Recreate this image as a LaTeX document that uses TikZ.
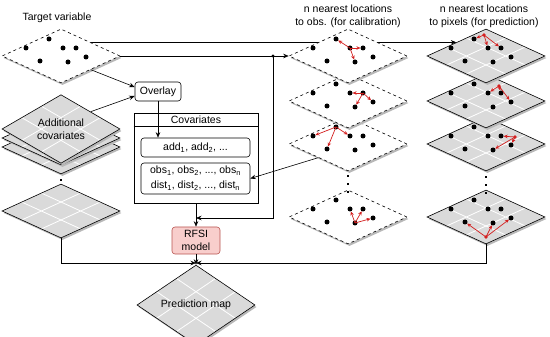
\documentclass[tikz,border=0pt]{standalone}
\usepackage{fontspec}
\setmainfont{Liberation Sans}
\usetikzlibrary{shapes.geometric,shadows,calc,arrows.meta,backgrounds}
\definecolor{gridgray}{HTML}{DADADA}
\definecolor{shadowgray}{HTML}{B8B8B8}
\definecolor{rfsifill}{HTML}{F8CECC}
\definecolor{rfsidraw}{HTML}{B85450}
\definecolor{redarr}{HTML}{D42020}
\newcommand\dotpattern[1]{\foreach \a/\b in {-12/-17,-35/-8,2/-8,15/-8,-21/5,7/6,25/1}{\fill ($(#1)+(\a,\b)$) circle (2.5pt);}}
\newcommand\nnarrow[3]{\draw[redarrow] ($(#1)+(#2)$) -- ($(#1)+(#3)$);}
\newcommand\pixelpt[2]{\fill[redarr] ($(#1)+(#2)$) circle (1.8pt);}
\newcommand\vdotsat[1]{\foreach \d in {-8,0,8}{\fill ($(#1)+(-1.3,\d-1.3)$) rectangle ++(2.6,2.6);}}
\tikzset{
  every node/.style={font=\fontsize{10.5}{13}\selectfont},
  dia/.style={diamond, inner sep=0pt, minimum width=118pt, minimum height=54pt, align=center,
    general shadow={fill=shadowgray, shadow xshift=1.5pt, shadow yshift=-2pt}},
  dashdia/.style={dia, draw, dashed, fill=white, line width=0.6pt},
  griddia/.style={dia, draw, fill=gridgray, line width=0.6pt,
    path picture={\foreach \t in {0.333,0.667}{
      \draw[white, line width=0.8pt, solid]
        ($(path picture bounding box.west)!\t!(path picture bounding box.north)$) -- ($(path picture bounding box.south)!\t!(path picture bounding box.east)$)
        ($(path picture bounding box.west)!\t!(path picture bounding box.south)$) -- ($(path picture bounding box.north)!\t!(path picture bounding box.east)$);}}},
  roundbox/.style={draw, rounded corners=3pt, inner sep=0pt, line width=0.6pt, align=center},
  arr/.style={-{Stealth[length=5.5pt,width=4.5pt]}, line width=0.6pt},
  redarrow/.style={redarr, line width=0.7pt, -{Stealth[length=4pt,width=3.6pt]}, shorten >=2.6pt},
  plainlabel/.style={align=center, inner sep=0pt},
}
\begin{document}
\begin{tikzpicture}[x=1pt,y=-1pt]
\useasboundingbox (0,0) rectangle (550,337);
% labels
\node[plainlabel] (tgtlabel) at (57,18) {Target variable};
\node[plainlabel] (callabel) at (348,16) {n nearest locations\\to obs. (for calibration)};
\node[plainlabel] (predlabel) at (484,16) {n nearest locations\\to pixels (for prediction)};
% target variable
\node[dashdia] (tgt) at (61,56) {};
\dotpattern{tgt}
% covariate stack
\node[griddia] (add3) at (61,147) {};
\node[griddia] (add2) at (61,138) {};
\node[griddia] (add1) at (61,129) {Additional\\covariates};
\coordinate (addvd) at (61,188);
\vdotsat{addvd}
\node[griddia] (cov) at (61,211) {};
% calibration column
\node[dashdia] (cal4) at (348,217) {};
\dotpattern{cal4}
\nnarrow{cal4}{7,6}{2,-8}\nnarrow{cal4}{7,6}{15,-8}\nnarrow{cal4}{7,6}{25,1}
\coordinate (calvd) at (348,184);
\vdotsat{calvd}
\node[dashdia] (cal3) at (348,144) {};
\dotpattern{cal3}
\nnarrow{cal3}{-12,-17}{-35,-8}\nnarrow{cal3}{-12,-17}{2,-8}\nnarrow{cal3}{-12,-17}{-21,5}
\node[dashdia] (cal2) at (348,101) {};
\dotpattern{cal2}
\nnarrow{cal2}{15,-8}{2,-8}\nnarrow{cal2}{15,-8}{25,1}\nnarrow{cal2}{15,-8}{7,6}
\node[dashdia] (cal1) at (348,56) {};
\dotpattern{cal1}
\nnarrow{cal1}{2,-8}{-12,-17}\nnarrow{cal1}{2,-8}{15,-8}\nnarrow{cal1}{2,-8}{7,6}
% prediction column
\node[griddia] (pred4) at (486,217) {};
\dotpattern{pred4}
\nnarrow{pred4}{0,20}{-21,5}\nnarrow{pred4}{0,20}{7,6}\nnarrow{pred4}{0,20}{25,1}
\pixelpt{pred4}{0,20}
\coordinate (predvd) at (486,185);
\vdotsat{predvd}
\node[griddia] (pred3) at (486,144) {};
\dotpattern{pred3}
\nnarrow{pred3}{29,-7}{15,-8}\nnarrow{pred3}{29,-7}{7,6}\nnarrow{pred3}{29,-7}{25,1}
\pixelpt{pred3}{29,-7}
\node[griddia] (pred2) at (486,101) {};
\dotpattern{pred2}
\nnarrow{pred2}{13,-15}{2,-8}\nnarrow{pred2}{13,-15}{15,-8}\nnarrow{pred2}{13,-15}{25,1}
\pixelpt{pred2}{13,-15}
\node[griddia] (pred1) at (486,56) {};
\dotpattern{pred1}
\nnarrow{pred1}{-2,-21}{-12,-17}\nnarrow{pred1}{-2,-21}{2,-8}\nnarrow{pred1}{-2,-21}{15,-8}
\pixelpt{pred1}{-2,-21}
% middle
\node[roundbox, minimum width=46pt, minimum height=19pt] (overlay) at (158,91.5) {Overlay};
\node[draw, line width=0.6pt, minimum width=124pt, minimum height=90pt, inner sep=0pt] (covbox) at (196,158) {};
\draw[line width=0.6pt] ([yshift=-14pt]covbox.north west) -- ([yshift=-14pt]covbox.north east);
\node[plainlabel] (covtitle) at (196,120) {Covariates};
\node[roundbox, minimum width=109pt, minimum height=19pt] (addbox) at (195.5,147.5) {add\textsubscript{1}, add\textsubscript{2}, ...};
\node[roundbox, minimum width=109pt, minimum height=31pt] (obsbox) at (195.5,178.5) {obs\textsubscript{1}, obs\textsubscript{2}, ..., obs\textsubscript{n}\\[2pt]dist\textsubscript{1}, dist\textsubscript{2}, ..., dist\textsubscript{n}};
\node[roundbox, fill=rfsifill, draw=rfsidraw, minimum width=48pt, minimum height=27pt] (rfsi) at (196,240.5) {RFSI\\model};
\node[griddia] (pmap) at (196,305) {Prediction map};
% connectors
\begin{pgfonlayer}{background}
\draw[arr] (tgt.north east) -- (pred1.north west);
\end{pgfonlayer}
\draw[arr] (tgt.east) -- (cal1.west);
\coordinate (j1) at (273,56);
\coordinate (j2) at (273,218);
\fill (j1) circle (1.6pt);
\draw[arr] (j1) -- (j2) -- (j2 -| rfsi.north);
\draw[arr] (tgt.south east) -- ([yshift=4.5pt]overlay.west);
\draw[arr] (add1.north east) -- ([yshift=-4.5pt]overlay.west);
\draw[arr] (overlay.south) -- (overlay.south |- addbox.north);
\draw[arr] (cal3.south west) -- (obsbox.east);
\draw[arr] (covbox.south) -- (rfsi.north);
\draw[arr] (rfsi.south) -- (pmap.north);
\coordinate (m) at (196,263);
\draw[arr] (cov.south) |- (m);
\draw[arr] (pred4.south) |- (m);
\end{tikzpicture}
\end{document}
